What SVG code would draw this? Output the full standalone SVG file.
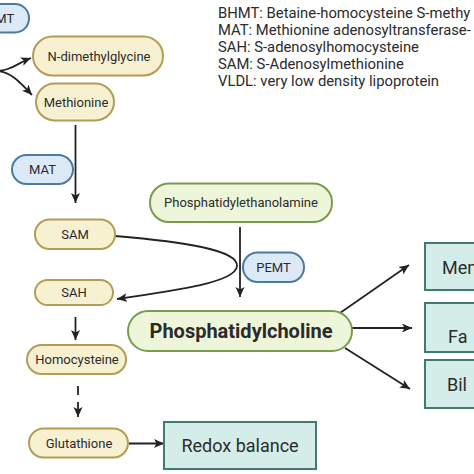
<svg xmlns="http://www.w3.org/2000/svg" width="474" height="474" viewBox="0 0 474 474">
<defs>
<style>
text{font-family:Roboto,"Liberation Sans",Arial,sans-serif;fill:#2b2b2b}
.y{fill:#f7f1d2;stroke:#b39c55;stroke-width:2}
.b{fill:#dce9f7;stroke:#4b7aa5;stroke-width:2}
.g{fill:#eef6da;stroke:#7b9a4f;stroke-width:2}
.t{fill:#d4ede9;stroke:#3f7c6f;stroke-width:2}
.s{font-size:13px;text-anchor:middle}
.l{font-size:14.8px}
.big{font-size:18px}
.c{fill:none;stroke:#222;stroke-width:1.8}
</style>
<marker id="ah" markerUnits="userSpaceOnUse" markerWidth="11" markerHeight="10" refX="10" refY="5" orient="auto">
<path d="M0,0.5 L10,5 L0,9.5 L2.5,5 z" fill="#222"/>
</marker>
</defs>
<rect width="474" height="474" fill="#ffffff"/>

<g id="legend">
<text class="l" x="218" y="18">BHMT: Betaine-homocysteine S-methy</text>
<text class="l" x="218" y="35">MAT: Methionine adenosyltransferase-</text>
<text class="l" x="218" y="52">SAH: S-adenosylhomocysteine</text>
<text class="l" x="218" y="69">SAM: S-Adenosylmethionine</text>
<text class="l" x="218" y="86">VLDL: very low density lipoprotein</text>
</g>

<g id="connectors">
<path class="c" d="M-4,71 C10,71 18,63 31,58" marker-end="url(#ah)"/>
<path class="c" d="M-4,71 C10,71 20,82 32,95" marker-end="url(#ah)"/>
<path class="c" d="M75.5,125 L75.5,203" marker-end="url(#ah)"/>
<path class="c" d="M115,236 C185,242 238,250 237,266 C236,282 180,290 117,299" marker-end="url(#ah)"/>
<path class="c" d="M240,227 L240,297" marker-end="url(#ah)"/>
<path class="c" d="M75.5,317 L75.5,340" marker-end="url(#ah)"/>
<path class="c" d="M78,386 L78,395"/>
<path class="c" d="M78,402 L78,417" marker-end="url(#ah)"/>
<path class="c" d="M129,443.5 L164,443.5" marker-end="url(#ah)"/>
<path class="c" d="M340,313 L409,265" marker-end="url(#ah)"/>
<path class="c" d="M352,328 L412,328" marker-end="url(#ah)"/>
<path class="c" d="M345,348 L410,389" marker-end="url(#ah)"/>
</g>

<g id="bhmt">
<rect class="b" x="-30" y="4" width="59" height="28.5" rx="14"/>
<text class="s" x="-4" y="22.5">BHMT</text>
</g>
<g id="ndmg">
<rect class="y" x="33" y="36.5" width="130" height="39" rx="19.5"/>
<text class="s" x="99" y="61">N-dimethylglycine</text>
</g>
<g id="methionine">
<rect class="y" x="36" y="83.5" width="78" height="37" rx="18.5"/>
<text class="s" x="76" y="106.5">Methionine</text>
</g>
<g id="mat">
<rect class="b" x="12" y="155" width="61" height="29" rx="14.5"/>
<text class="s" x="42.5" y="174">MAT</text>
</g>
<g id="sam">
<rect class="y" x="35" y="219.5" width="80" height="29.5" rx="14.5"/>
<text class="s" x="75" y="238.5">SAM</text>
</g>
<g id="sah">
<rect class="y" x="35" y="280" width="78" height="25" rx="12.5"/>
<text class="s" x="74" y="297">SAH</text>
</g>
<g id="homocysteine">
<rect class="y" x="27" y="345" width="99" height="29" rx="14.5"/>
<text class="s" x="77" y="364">Homocysteine</text>
</g>
<g id="glutathione">
<rect class="y" x="29" y="428.5" width="99" height="29" rx="14.5"/>
<text class="s" x="79" y="448">Glutathione</text>
</g>
<g id="redox">
<rect class="t" x="164" y="422" width="152" height="47"/>
<text class="big" x="240" y="451.5" text-anchor="middle">Redox balance</text>
</g>
<g id="pe">
<rect class="g" x="150" y="183.5" width="182" height="38.5" rx="19"/>
<text class="s" x="241" y="207">Phosphatidylethanolamine</text>
</g>
<g id="pemt">
<rect class="b" x="243" y="252.5" width="61" height="29.5" rx="14.5"/>
<text class="s" x="273.5" y="272">PEMT</text>
</g>
<g id="pc">
<rect class="g" x="128" y="311" width="224" height="40" rx="20"/>
<text x="241" y="338" text-anchor="middle" font-size="20" font-weight="bold" fill="#111">Phosphatidylcholine</text>
</g>
<g id="membrane">
<rect class="t" x="425" y="243" width="80" height="47"/>
<text class="big" x="442" y="273.5">Mem</text>
</g>
<g id="fa">
<rect class="t" x="425" y="303" width="80" height="49"/>
<text class="big" x="448" y="343">Fa</text>
</g>
<g id="bile">
<rect class="t" x="425" y="360" width="80" height="48"/>
<text class="big" x="447" y="391">Bil</text>
</g>
</svg>
